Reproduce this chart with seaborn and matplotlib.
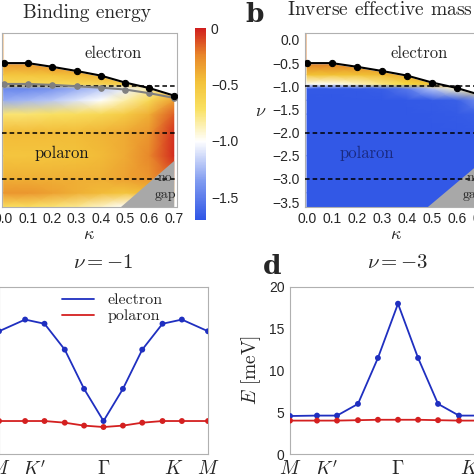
import numpy as np
import matplotlib
matplotlib.use("Agg")
import matplotlib.pyplot as plt
import seaborn as sns
import pandas as pd
from matplotlib.colors import LinearSegmentedColormap

sns.set_style("white")
plt.rcParams['font.family'] = ['Liberation Sans', 'DejaVu Sans']
plt.rcParams['mathtext.fontset'] = 'cm'
plt.rcParams['axes.unicode_minus'] = True

# ---- data: phase diagrams ----
kappa = [0.0, 0.1, 0.2, 0.3, 0.4, 0.5, 0.6, 0.7]
electron_nu = [-0.5, -0.5, -0.58, -0.67, -0.77, -0.92, -1.04, -1.2]
gray_nu = [-0.95, -0.95, -0.97, -1.0, -1.03, -1.07, -1.15, -1.25]
gap_kappa = [0.48, 0.7]
gap_nu = [-3.6, -2.6]
nu_rows = [-3.6, -3.3, -3.0, -2.5, -2.0, -1.6, -1.3, -1.05, -0.95, -0.75, -0.5, 0.15]
binding = [
    [-0.7, -0.7, -0.75, -0.8, -0.9, -1.0, -1.0, -1.0],
    [-0.3, -0.3, -0.35, -0.4, -0.45, -0.5, -0.45, -0.4],
    [-0.4, -0.4, -0.4, -0.4, -0.4, -0.35, -0.3, -0.2],
    [-0.5, -0.5, -0.5, -0.48, -0.45, -0.38, -0.25, -0.03],
    [-0.45, -0.45, -0.45, -0.45, -0.42, -0.38, -0.3, -0.05],
    [-0.75, -0.75, -0.72, -0.7, -0.65, -0.55, -0.4, -0.15],
    [-1.3, -1.25, -1.2, -1.1, -1.0, -0.85, -0.65, -0.35],
    [-1.45, -1.45, -1.4, -1.3, -1.2, -1.05, -0.85, -0.55],
    [-0.65, -0.65, -0.65, -0.65, -0.62, -0.55, -0.45, -0.3],
    [-0.5, -0.5, -0.48, -0.45, -0.4, -0.35, -0.3, -0.2],
    [-0.3, -0.3, -0.25, -0.2, -0.15, -0.1, -0.05, -0.05],
    [-0.3, -0.3, -0.25, -0.2, -0.15, -0.1, -0.05, -0.05],
]
inv_mass = [
    [0.03] * 8,
    [0.03] * 8,
    [0.03] * 8,
    [0.03] * 8,
    [0.03] * 8,
    [0.03, 0.03, 0.03, 0.03, 0.03, 0.04, 0.06, 0.1],
    [0.03, 0.03, 0.03, 0.03, 0.04, 0.06, 0.1, 0.2],
    [0.04, 0.04, 0.05, 0.08, 0.15, 0.3, 0.45, 0.6],
    [0.42, 0.42, 0.45, 0.5, 0.55, 0.6, 0.65, 0.7],
    [0.6, 0.6, 0.6, 0.62, 0.65, 0.7, 0.75, 0.75],
    [0.75] * 8,
    [0.75] * 8,
]

# ---- data: band structures ----
path_pos = [0.0, 0.433, 0.754, 1.09, 1.41, 1.732, 2.054, 2.374, 2.71, 3.031, 3.464]
tick_pos = [0.0, 0.577, 1.732, 2.887, 3.464]
tick_lab = ['$M$', "$K'$", r'$\Gamma$', '$K$', '$M$']
c_electron = [14.7, 16.1, 15.6, 12.5, 7.8, 3.95, 7.8, 12.5, 15.6, 16.1, 14.7]
c_polaron = [3.95, 3.95, 3.95, 3.75, 3.4, 3.23, 3.4, 3.75, 3.95, 3.95, 3.95]
d_electron = [4.55, 4.6, 4.6, 6.0, 11.5, 18.0, 11.5, 6.0, 4.6, 4.6, 4.55]
d_polaron = [4.0, 4.0, 4.0, 4.05, 4.1, 4.1, 4.1, 4.05, 4.0, 4.0, 4.0]

W = 474.0
fig = plt.figure(figsize=(4.74, 4.74), dpi=100)
def ax_at(l, t, w, h):
    return fig.add_axes([l / W, 1 - (t + h) / W, w / W, h / W])

stops = [(0.0, '#2f55e6'), (0.2, '#7f9af0'), (0.41, '#ffffff'), (0.58, '#f9e060'),
         (0.72, '#f3c23a'), (0.86, '#e8862a'), (1.0, '#d01e1e')]
cmap = LinearSegmentedColormap.from_list('temp', stops)
cmap_b = LinearSegmentedColormap.from_list(
    'tempb', [(0, '#2f55e6'), (0.1, '#3a60e6'), (0.41, '#ffffff'), (0.55, '#f7dc3a'),
              (0.7, '#e8902a'), (1.0, '#c02010')])
serif = 'cmr10'
frame_col = '#b0b0b0'

def style(ax):
    for s in ax.spines.values():
        s.set_color(frame_col)
        s.set_linestyle((0, (1, 1)))
        s.set_linewidth(0.8)
    ax.tick_params(length=2, color=frame_col, labelsize=10, pad=2)

K, N = np.meshgrid(kappa, nu_rows)
for idx, (vals, cm, vmin, vmax) in enumerate([(binding, cmap, -1.7, 0.0), (inv_mass, cmap_b, 0.0, 1.0)]):
    if idx == 0:
        ax = ax_at(1.8, 33, 175, 173.7)
        ax.set_xlim(-0.0075, 0.7125)
    else:
        ax = ax_at(305, 33, 181, 173.7)
        ax.set_xlim(-0.008, 0.715)
    mesh = ax.pcolormesh(K, N, np.array(vals), cmap=cm, vmin=vmin, vmax=vmax, shading='gouraud')
    ax.fill_between(kappa, electron_nu, 0.15, color='white', zorder=2)
    ax.fill_between(gap_kappa, gap_nu, -3.6, color='#a8a8a8', zorder=2, lw=0)
    for yv in [-1, -2, -3]:
        ax.axhline(yv, color='black', ls=(0, (3, 2)), lw=1.1, zorder=3)
    if idx == 0:
        sns.lineplot(x=kappa, y=gray_nu, ax=ax, color='gray', lw=1.5, marker='o', ms=4,
                     mec='gray', zorder=4)
        amesh = mesh
    sns.lineplot(x=kappa, y=electron_nu, ax=ax, color='black', lw=1.5, marker='o', ms=4.5,
                 mec='black', zorder=5)
    ax.set_ylim(-3.6, 0.15)
    ax.set_xticks(kappa)
    ax.set_xticklabels([f'{k:.1f}' for k in kappa])
    ax.set_yticks([0, -0.5, -1, -1.5, -2, -2.5, -3, -3.5])
    ax.set_yticklabels(['0.0', '\u22120.5', '\u22121.0', '\u22121.5', '\u22122.0', '\u22122.5', '\u22123.0', '\u22123.5'])
    ax.set_xlabel(r'$\kappa$', fontsize=13, labelpad=0)
    ax.set_ylabel(r'$\nu$', fontsize=13, rotation=0, labelpad=8)
    style(ax)
    pol_col = '#1a2a80' if idx == 1 else '#1a1a1a'
    ax.text(0.45, -0.28, 'electron', fontfamily=serif, fontsize=12, ha='center', va='center', zorder=6)
    ax.text(0.24, -2.44, 'polaron', fontfamily=serif, fontsize=12, ha='center', va='center', color=pol_col, zorder=6)
    ax.text(0.665, -2.98, 'no', fontfamily=serif, fontsize=10, ha='center', va='center', zorder=6)
    ax.text(0.665, -3.35, 'gap', fontfamily=serif, fontsize=10, ha='center', va='center', zorder=6)

fig.text(87 / W, 1 - 13 / W, 'Binding energy', fontfamily=serif, fontsize=14, ha='center', va='center')
fig.text(287 / W, 1 - 9 / W, 'Inverse effective mass $m^{-1}$', fontfamily=serif, fontsize=14, ha='left', va='center')
fig.text(255 / W, 1 - 15 / W, 'b', fontfamily='DejaVu Serif', fontsize=19, fontweight='bold', ha='center', va='center')

cax = ax_at(195, 28, 11, 192)
cb = fig.colorbar(amesh, cax=cax)
cb.set_ticks([0, -0.5, -1.0, -1.5])
cb.set_ticklabels(['0', '\u22120.5', '\u22121.0', '\u22121.5'])
cb.outline.set_visible(False)
cax.tick_params(length=0, labelsize=10)

blue = '#1f2fc0'
red = '#d42020'
for idx, (el, po, title) in enumerate([(c_electron, c_polaron, r'$\nu=-1$'), (d_electron, d_polaron, r'$\nu=-3$')]):
    if idx == 0:
        ax = ax_at(-1, 287, 209, 167)
    else:
        ax = ax_at(290, 287, 216, 167)
    df = pd.DataFrame({'k': path_pos + path_pos, 'E': el + po,
                       'band': ['electron'] * len(el) + ['polaron'] * len(po)})
    sns.lineplot(data=df, x='k', y='E', hue='band', palette={'electron': blue, 'polaron': red},
                 ax=ax, lw=1.3, legend=(idx == 0))
    sns.scatterplot(data=df, x='k', y='E', hue='band', palette={'electron': blue, 'polaron': red},
                    ax=ax, s=18, edgecolor='none', legend=False, zorder=5)
    ax.set_xlim(0, 3.464)
    ax.set_ylim(0, 20)
    ax.set_xticks(tick_pos)
    ax.set_xticklabels(tick_lab, fontsize=14)
    ax.set_yticks([0, 5, 10, 15, 20])
    ax.set_xlabel('')
    ax.set_ylabel(r'$E\ [\mathrm{meV}]$', fontsize=14, labelpad=4)
    style(ax)
    ax.tick_params(axis='x', labelsize=14)
    ax.set_title(title, fontsize=15, pad=14)
    if idx == 0:
        ax.legend(title=None, frameon=False, loc='upper left', bbox_to_anchor=(0.25, 1.03),
                  prop={'family': serif, 'size': 11.5}, handlelength=2.0, labelspacing=0.1,
                  borderpad=0.2, handletextpad=0.8)
fig.text(272 / W, 1 - 267 / W, 'd', fontfamily='DejaVu Serif', fontsize=19, fontweight='bold', ha='center', va='center')

fig.savefig('out.png', dpi=100)
